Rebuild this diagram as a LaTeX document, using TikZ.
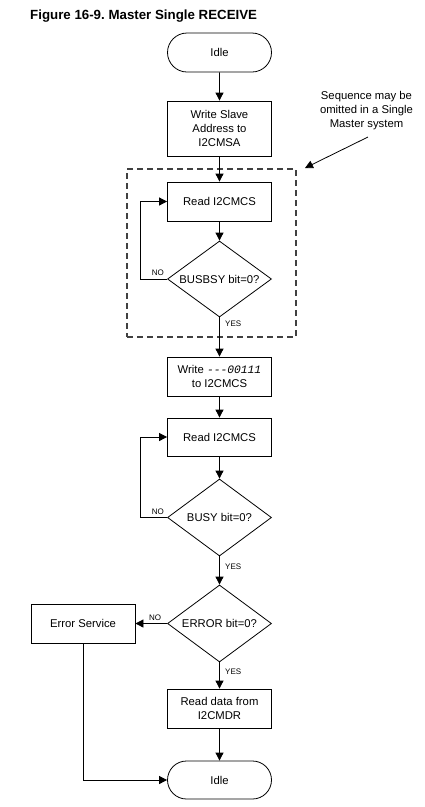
\documentclass[tikz,border=0pt]{standalone}
\usepackage{fontspec}
\setmainfont{Liberation Sans}
\setmonofont{Liberation Mono}
\usetikzlibrary{shapes.geometric,shapes.misc,arrows.meta}
\frenchspacing
\tikzset{
  every picture/.style={x=1pt,y=-1pt},
  base/.style={draw=black,line width=0.8pt,inner sep=0pt,font=\fontsize{11.3}{13.7}\selectfont,align=center},
  box/.style={base,rectangle,minimum width=104pt,minimum height=39pt},
  term/.style={base,rounded rectangle,minimum width=104pt,minimum height=39pt},
  dec/.style={base,diamond,aspect=1.37,minimum width=104pt,minimum height=77pt},
  flow/.style={draw=black,line width=0.8pt,-{Triangle[length=8pt,width=8pt]}},
  plain/.style={draw=black,line width=0.8pt},
  lbl/.style={inner sep=0pt,font=\fontsize{8}{9}\selectfont},
  note/.style={inner sep=0pt,align=center,font=\fontsize{11.3}{14}\selectfont},
  grp/.style={draw=black!75,line width=1.2pt,dash pattern=on 6pt off 4pt}
}
\begin{document}
\begin{tikzpicture}
\useasboundingbox (0,0) rectangle (425,807);
\node[anchor=base west,inner sep=0pt,font=\bfseries\fontsize{13.3}{15}\selectfont] (title) at (30,19.5) {Figure 16-9.\ Master Single RECEIVE};

\node[term] (idle1) at (219.5,52.5) {Idle};
\node[box,minimum height=55pt] (wsa) at (219.5,128.5) {Write Slave\\Address to\\I2CMSA};
\node[box] (rd1) at (219.5,201.5) {Read I2CMCS};
\node[dec,minimum height=76pt] (d1) at (219.5,279) {BUSBSY bit=0?};
\node[box] (wr) at (219.5,376.5) {Write {\ttfamily\itshape ---00111}\\to I2CMCS};
\node[box,minimum height=38pt] (rd2) at (219.5,437) {Read I2CMCS};
\node[dec] (d2) at (219.5,517.5) {BUSY bit=0?};
\node[dec] (d3) at (219.5,623.5) {ERROR bit=0?};
\node[box] (err) at (83,623.5) {Error Service};
\node[box] (rdd) at (219.5,708.5) {Read data from\\I2CMDR};
\node[term,minimum height=38pt] (idle2) at (219.5,780) {Idle};

% dashed group
\node[grp,rectangle,inner sep=0pt,minimum width=169pt,minimum height=168pt] (grpbox) at (211.5,253) {};

% annotation
\node[note] (note) at (366.5,111) {Sequence may be\\omitted in a Single\\Master system};
\coordinate (ntail) at (368,137);
\coordinate (ntip) at (305,168);
\draw[flow] (ntail) -- (ntip);

% connectors
\draw[flow] (idle1) -- (wsa);
\draw[flow] (wsa) -- (rd1);
\draw[flow] (rd1) -- (d1);
\draw[flow] (d1) -- (wr);
\draw[flow] (d1.west) -- ++(-27,0) |- (rd1.west);
\draw[flow] (wr) -- (rd2);
\draw[flow] (rd2) -- (d2);
\draw[flow] (d2.west) -- ++(-27,0) |- (rd2.west);
\draw[flow] (d2) -- (d3);
\draw[flow] (d3) -- (err);
\draw[flow] (d3) -- (rdd);
\draw[flow] (rdd) -- (idle2);
\draw[flow] (err.south) |- (idle2.west);

% labels
\node[lbl,anchor=south east] (no1) at (164,276) {NO};
\node[lbl,anchor=south east] (no2) at (164,514.5) {NO};
\node[lbl,anchor=south] (no3) at (155,620.5) {NO};
\node[lbl,anchor=west] (yes1) at (225,324) {YES};
\node[lbl,anchor=west] (yes2) at (225,567) {YES};
\node[lbl,anchor=west] (yes3) at (225,672) {YES};
\end{tikzpicture}
\end{document}
